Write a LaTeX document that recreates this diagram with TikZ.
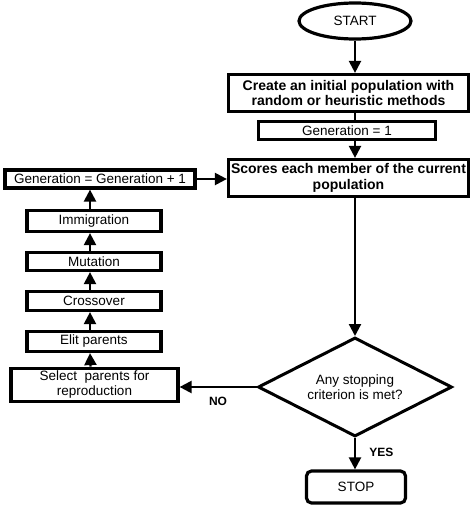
\documentclass[tikz,border=0pt]{standalone}
\usepackage{fontspec}
\setmainfont{Liberation Sans}
\usetikzlibrary{arrows.meta, positioning, calc, shapes.geometric}
\tikzset{
    gaBox/.style={
        rectangle,
        draw=black,
        fill=white,
        line width=3.2pt,
        inner xsep=0pt,
        inner ysep=3pt,
        align=center,
        font=\fontsize{13.5}{15}\selectfont
    },
    gaBold/.style={
        gaBox,
        font=\fontsize{14}{15.5}\selectfont\bfseries
    },
    gaTerm/.style={
        ellipse,
        draw=black,
        line width=3.2pt,
        inner sep=0pt,
        font=\fontsize{13.5}{15}\selectfont
    },
    gaCheck/.style={
        diamond,
        aspect=2,
        draw=black,
        line width=3pt,
        inner sep=0pt,
        align=center,
        font=\fontsize{13.5}{15}\selectfont
    },
    gaFlow/.style={
        -{Triangle[length=12pt, width=12pt]},
        line width=2.2pt
    },
    gaTag/.style={
        font=\fontsize{12}{14}\selectfont\bfseries
    }
}
\begin{document}
\begin{tikzpicture}[x=1pt, y=-1pt]
        \useasboundingbox (0,0) rectangle (474,506);

        % Main column
        \node[gaTerm, minimum width=112, minimum height=36] (start) at (355, 21) {START};
        \node[gaBold, minimum width=240, minimum height=37] (create) at (348.5, 93)
            {Create an initial population with\\random or heuristic methods};
        \node[gaBox, minimum width=177, minimum height=18] (genone) at (347, 130.5) {Generation = 1};
        \node[gaBold, minimum width=240, minimum height=37] (score) at (348.5, 178)
            {Scores each member of the current\\population};
        \node[gaCheck, minimum width=194, minimum height=99] (check) at (355, 387)
            {Any stopping\\criterion is met?};
        \node[gaBox, rounded corners=5pt, minimum width=99, minimum height=32] (stop) at (356, 487) {STOP};

        % Loop column (left)
        \node[gaBox, minimum width=190, minimum height=18] (genplus) at (100, 179) {Generation = Generation + 1};
        \node[gaBox, minimum width=134, minimum height=21] (immig) at (94, 221) {Immigration};
        \node[gaBox, minimum width=134, minimum height=18] (mutat) at (94, 261.5) {Mutation};
        \node[gaBox, minimum width=134, minimum height=19] (cross) at (94, 301) {Crossover};
        \node[gaBox, minimum width=134, minimum height=20] (elit) at (94, 341.5) {Elit parents};
        \node[gaBox, minimum width=167, minimum height=31] (select) at (94.5, 385)
            {Select\ \ parents for\\reproduction};

        % Connectors
        \draw[gaFlow] (start.south) -- (start.south |- create.north);
        \draw[line width=2.2pt] (start.south |- create.south) -- (start.south |- genone.north);
        \draw[gaFlow] (start.south |- genone.south) -- (start.south |- score.north);
        \draw[gaFlow] (check.north |- score.south) -- (check.north);
        \draw[gaFlow] (check.south) -- (check.south |- stop.north)
            node[gaTag, pos=0.45, right=10pt] {YES};
        \draw[gaFlow] (check.west) -- (check.west -| select.east)
            node[gaTag, pos=0.5, below=6pt] {NO};

        % Loop arrows
        \draw[gaFlow] ([xshift=-4pt]select.north) -- ([xshift=-4pt]elit.south);
        \draw[gaFlow] ([xshift=-4pt]elit.north) -- ([xshift=-4pt]cross.south);
        \draw[gaFlow] ([xshift=-4pt]cross.north) -- ([xshift=-4pt]mutat.south);
        \draw[gaFlow] ([xshift=-4pt]mutat.north) -- ([xshift=-4pt]immig.south);
        \draw[gaFlow] ([xshift=-4pt]immig.north) -- ([xshift=-4pt]immig.north |- genplus.south);
        \draw[gaFlow] (genplus.east) -- (genplus.east -| score.west);

    \end{tikzpicture}
\end{document}
